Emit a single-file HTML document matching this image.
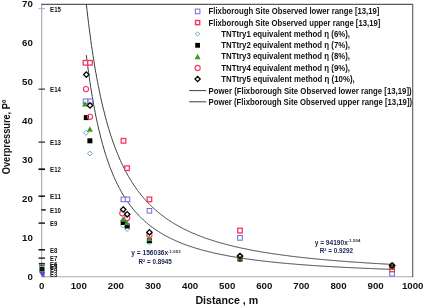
<!DOCTYPE html><html><head><meta charset="utf-8"><title>chart</title><style>html,body{margin:0;padding:0;background:#fff}svg{display:block;filter:blur(0.4px)}</style></head><body><svg width="425" height="307" viewBox="0 0 425 307" font-family='"Liberation Sans", sans-serif' font-weight="bold">
<rect width="425" height="307" fill="#fff"/>
<path d="M41.7,4.2 V276.8 H412.7" fill="none" stroke="#a2aeb6" stroke-width="1.1"/>
<path d="M41.2,4.4 H412.7 V277.3" fill="none" stroke="#5a5a5a" stroke-width="1.1"/>
<path d="M86.3,55.1 L87.0,61.0 L87.8,66.7 L88.5,72.2 L89.3,77.5 L90.0,82.5 L90.7,87.3 L91.5,92.0 L92.2,96.4 L93.0,100.7 L93.7,104.8 L94.5,108.8 L95.2,112.7 L95.9,116.3 L96.7,119.9 L97.4,123.3 L98.2,126.7 L98.9,129.9 L99.7,133.0 L100.4,136.0 L101.1,138.8 L101.9,141.6 L102.6,144.4 L103.4,147.0 L104.1,149.5 L104.8,152.0 L105.6,154.4 L106.3,156.7 L107.1,158.9 L107.8,161.1 L108.6,163.2 L109.3,165.3 L110.0,167.3 L110.8,169.2 L111.5,171.1 L112.3,172.9 L113.0,174.7 L113.7,176.4 L114.5,178.1 L115.2,179.7 L116.0,181.3 L116.7,182.9 L117.5,184.4 L118.2,185.9 L118.9,187.3 L119.7,188.7 L120.4,190.1 L121.2,191.4 L121.9,192.7 L122.7,194.0 L123.4,195.2 L124.1,196.4 L124.9,197.6 L125.6,198.8 L126.4,199.9 L127.1,201.0 L127.8,202.1 L128.6,203.1 L129.3,204.1 L130.1,205.1 L130.8,206.1 L131.6,207.1 L132.3,208.0 L133.0,208.9 L133.8,209.8 L134.5,210.7 L135.3,211.6 L136.0,212.4 L136.8,213.3 L137.5,214.1 L138.2,214.9 L139.0,215.6 L139.7,216.4 L140.5,217.2 L141.2,217.9 L141.9,218.6 L142.7,219.3 L143.4,220.0 L144.2,220.7 L144.9,221.3 L145.7,222.0 L146.4,222.6 L147.1,223.3 L147.9,223.9 L148.6,224.5 L149.4,225.1 L150.1,225.7 L150.8,226.2 L151.6,226.8 L152.3,227.3 L153.1,227.9 L153.8,228.4 L154.6,228.9 L155.3,229.5 L156.0,230.0 L156.8,230.5 L157.5,230.9 L158.3,231.4 L159.0,231.9 L159.8,232.4 L160.5,232.8 L161.2,233.3 L162.0,233.7 L162.7,234.1 L163.5,234.6 L164.2,235.0 L164.9,235.4 L165.7,235.8 L166.4,236.2 L167.2,236.6 L167.9,237.0 L168.7,237.4 L169.4,237.8 L170.1,238.1 L170.9,238.5 L171.6,238.9 L172.4,239.2 L173.1,239.6 L173.9,239.9 L174.6,240.2 L175.3,240.6 L176.1,240.9 L176.8,241.2 L177.6,241.6 L178.3,241.9 L179.0,242.2 L179.8,242.5 L180.5,242.8 L181.3,243.1 L182.0,243.4 L182.8,243.7 L183.5,244.0 L184.2,244.2 L185.0,244.5 L185.7,244.8 L186.5,245.1 L187.2,245.3 L187.9,245.6 L188.7,245.8 L189.4,246.1 L190.2,246.3 L190.9,246.6 L191.7,246.8 L192.4,247.1 L193.1,247.3 L193.9,247.6 L194.6,247.8 L195.4,248.0 L196.1,248.3 L196.9,248.5 L197.6,248.7 L198.3,248.9 L199.1,249.1 L199.8,249.3 L200.6,249.6 L201.3,249.8 L202.0,250.0 L202.8,250.2 L203.5,250.4 L204.3,250.6 L205.0,250.8 L205.8,251.0 L206.5,251.2 L207.2,251.3 L208.0,251.5 L208.7,251.7 L209.5,251.9 L210.2,252.1 L211.0,252.3 L211.7,252.4 L212.4,252.6 L213.2,252.8 L213.9,252.9 L214.7,253.1 L215.4,253.3 L216.1,253.4 L216.9,253.6 L217.6,253.8 L218.4,253.9 L219.1,254.1 L219.9,254.2 L220.6,254.4 L221.3,254.5 L222.1,254.7 L222.8,254.8 L223.6,255.0 L224.3,255.1 L225.0,255.3 L225.8,255.4 L226.5,255.6 L227.3,255.7 L228.0,255.8 L228.8,256.0 L229.5,256.1 L230.2,256.3 L231.0,256.4 L231.7,256.5 L232.5,256.6 L233.2,256.8 L234.0,256.9 L234.7,257.0 L235.4,257.1 L236.2,257.3 L236.9,257.4 L237.7,257.5 L238.4,257.6 L239.1,257.8 L239.9,257.9 L240.6,258.0 L241.4,258.1 L242.1,258.2 L242.9,258.3 L243.6,258.4 L244.3,258.5 L245.1,258.7 L245.8,258.8 L246.6,258.9 L247.3,259.0 L248.1,259.1 L248.8,259.2 L249.5,259.3 L250.3,259.4 L251.0,259.5 L251.8,259.6 L252.5,259.7 L253.2,259.8 L254.0,259.9 L254.7,260.0 L255.5,260.1 L256.2,260.2 L257.0,260.3 L257.7,260.4 L258.4,260.5 L259.2,260.6 L259.9,260.6 L260.7,260.7 L261.4,260.8 L262.1,260.9 L262.9,261.0 L263.6,261.1 L264.4,261.2 L265.1,261.3 L265.9,261.3 L266.6,261.4 L267.3,261.5 L268.1,261.6 L268.8,261.7 L269.6,261.7 L270.3,261.8 L271.1,261.9 L271.8,262.0 L272.5,262.1 L273.3,262.1 L274.0,262.2 L274.8,262.3 L275.5,262.4 L276.2,262.4 L277.0,262.5 L277.7,262.6 L278.5,262.7 L279.2,262.7 L280.0,262.8 L280.7,262.9 L281.4,263.0 L282.2,263.0 L282.9,263.1 L283.7,263.2 L284.4,263.2 L285.2,263.3 L285.9,263.4 L286.6,263.4 L287.4,263.5 L288.1,263.6 L288.9,263.6 L289.6,263.7 L290.3,263.8 L291.1,263.8 L291.8,263.9 L292.6,263.9 L293.3,264.0 L294.1,264.1 L294.8,264.1 L295.5,264.2 L296.3,264.3 L297.0,264.3 L297.8,264.4 L298.5,264.4 L299.2,264.5 L300.0,264.5 L300.7,264.6 L301.5,264.7 L302.2,264.7 L303.0,264.8 L303.7,264.8 L304.4,264.9 L305.2,264.9 L305.9,265.0 L306.7,265.0 L307.4,265.1 L308.2,265.2 L308.9,265.2 L309.6,265.3 L310.4,265.3 L311.1,265.4 L311.9,265.4 L312.6,265.5 L313.3,265.5 L314.1,265.6 L314.8,265.6 L315.6,265.7 L316.3,265.7 L317.1,265.8 L317.8,265.8 L318.5,265.9 L319.3,265.9 L320.0,266.0 L320.8,266.0 L321.5,266.1 L322.3,266.1 L323.0,266.1 L323.7,266.2 L324.5,266.2 L325.2,266.3 L326.0,266.3 L326.7,266.4 L327.4,266.4 L328.2,266.5 L328.9,266.5 L329.7,266.5 L330.4,266.6 L331.2,266.6 L331.9,266.7 L332.6,266.7 L333.4,266.8 L334.1,266.8 L334.9,266.8 L335.6,266.9 L336.3,266.9 L337.1,267.0 L337.8,267.0 L338.6,267.0 L339.3,267.1 L340.1,267.1 L340.8,267.2 L341.5,267.2 L342.3,267.2 L343.0,267.3 L343.8,267.3 L344.5,267.4 L345.3,267.4 L346.0,267.4 L346.7,267.5 L347.5,267.5 L348.2,267.5 L349.0,267.6 L349.7,267.6 L350.4,267.7 L351.2,267.7 L351.9,267.7 L352.7,267.8 L353.4,267.8 L354.2,267.8 L354.9,267.9 L355.6,267.9 L356.4,267.9 L357.1,268.0 L357.9,268.0 L358.6,268.0 L359.4,268.1 L360.1,268.1 L360.8,268.1 L361.6,268.2 L362.3,268.2 L363.1,268.2 L363.8,268.3 L364.5,268.3 L365.3,268.3 L366.0,268.4 L366.8,268.4 L367.5,268.4 L368.3,268.5 L369.0,268.5 L369.7,268.5 L370.5,268.5 L371.2,268.6 L372.0,268.6 L372.7,268.6 L373.4,268.7 L374.2,268.7 L374.9,268.7 L375.7,268.8 L376.4,268.8 L377.2,268.8 L377.9,268.8 L378.6,268.9 L379.4,268.9 L380.1,268.9 L380.9,269.0 L381.6,269.0 L382.4,269.0 L383.1,269.0 L383.8,269.1 L384.6,269.1 L385.3,269.1 L386.1,269.1 L386.8,269.2 L387.5,269.2 L388.3,269.2 L389.0,269.3 L389.8,269.3 L390.5,269.3 L391.3,269.3 L392.0,269.4 L392.3,269.4" fill="none" stroke="#354242" stroke-width="1"/>
<path d="M86.3,4.0 L87.1,10.7 L87.8,17.1 L88.6,23.3 L89.3,29.2 L90.1,34.9 L90.8,40.4 L91.5,45.6 L92.3,50.7 L93.0,55.6 L93.8,60.3 L94.5,64.9 L95.2,69.3 L96.0,73.5 L96.7,77.6 L97.5,81.6 L98.2,85.5 L99.0,89.2 L99.7,92.8 L100.4,96.3 L101.2,99.6 L101.9,102.9 L102.7,106.1 L103.4,109.1 L104.2,112.1 L104.9,115.0 L105.6,117.8 L106.4,120.6 L107.1,123.2 L107.9,125.8 L108.6,128.3 L109.3,130.8 L110.1,133.1 L110.8,135.4 L111.6,137.7 L112.3,139.9 L113.1,142.0 L113.8,144.1 L114.5,146.1 L115.3,148.1 L116.0,150.0 L116.8,151.9 L117.5,153.7 L118.3,155.5 L119.0,157.3 L119.7,159.0 L120.5,160.6 L121.2,162.3 L122.0,163.9 L122.7,165.4 L123.4,166.9 L124.2,168.4 L124.9,169.9 L125.7,171.3 L126.4,172.7 L127.2,174.0 L127.9,175.3 L128.6,176.6 L129.4,177.9 L130.1,179.2 L130.9,180.4 L131.6,181.6 L132.3,182.7 L133.1,183.9 L133.8,185.0 L134.6,186.1 L135.3,187.2 L136.1,188.2 L136.8,189.3 L137.5,190.3 L138.3,191.3 L139.0,192.3 L139.8,193.2 L140.5,194.2 L141.3,195.1 L142.0,196.0 L142.7,196.9 L143.5,197.8 L144.2,198.6 L145.0,199.5 L145.7,200.3 L146.4,201.1 L147.2,201.9 L147.9,202.7 L148.7,203.4 L149.4,204.2 L150.2,204.9 L150.9,205.7 L151.6,206.4 L152.4,207.1 L153.1,207.8 L153.9,208.5 L154.6,209.2 L155.4,209.8 L156.1,210.5 L156.8,211.1 L157.6,211.7 L158.3,212.4 L159.1,213.0 L159.8,213.6 L160.5,214.2 L161.3,214.8 L162.0,215.3 L162.8,215.9 L163.5,216.4 L164.3,217.0 L165.0,217.5 L165.7,218.1 L166.5,218.6 L167.2,219.1 L168.0,219.6 L168.7,220.1 L169.4,220.6 L170.2,221.1 L170.9,221.6 L171.7,222.0 L172.4,222.5 L173.2,223.0 L173.9,223.4 L174.6,223.9 L175.4,224.3 L176.1,224.7 L176.9,225.2 L177.6,225.6 L178.4,226.0 L179.1,226.4 L179.8,226.8 L180.6,227.2 L181.3,227.6 L182.1,228.0 L182.8,228.4 L183.5,228.8 L184.3,229.2 L185.0,229.5 L185.8,229.9 L186.5,230.2 L187.3,230.6 L188.0,231.0 L188.7,231.3 L189.5,231.6 L190.2,232.0 L191.0,232.3 L191.7,232.6 L192.5,233.0 L193.2,233.3 L193.9,233.6 L194.7,233.9 L195.4,234.2 L196.2,234.5 L196.9,234.8 L197.6,235.1 L198.4,235.4 L199.1,235.7 L199.9,236.0 L200.6,236.3 L201.4,236.6 L202.1,236.9 L202.8,237.1 L203.6,237.4 L204.3,237.7 L205.1,238.0 L205.8,238.2 L206.5,238.5 L207.3,238.7 L208.0,239.0 L208.8,239.2 L209.5,239.5 L210.3,239.7 L211.0,240.0 L211.7,240.2 L212.5,240.5 L213.2,240.7 L214.0,240.9 L214.7,241.2 L215.5,241.4 L216.2,241.6 L216.9,241.8 L217.7,242.1 L218.4,242.3 L219.2,242.5 L219.9,242.7 L220.6,242.9 L221.4,243.1 L222.1,243.3 L222.9,243.5 L223.6,243.7 L224.4,243.9 L225.1,244.1 L225.8,244.3 L226.6,244.5 L227.3,244.7 L228.1,244.9 L228.8,245.1 L229.6,245.3 L230.3,245.5 L231.0,245.7 L231.8,245.8 L232.5,246.0 L233.3,246.2 L234.0,246.4 L234.7,246.6 L235.5,246.7 L236.2,246.9 L237.0,247.1 L237.7,247.2 L238.5,247.4 L239.2,247.6 L239.9,247.7 L240.7,247.9 L241.4,248.1 L242.2,248.2 L242.9,248.4 L243.6,248.5 L244.4,248.7 L245.1,248.8 L245.9,249.0 L246.6,249.1 L247.4,249.3 L248.1,249.4 L248.8,249.6 L249.6,249.7 L250.3,249.9 L251.1,250.0 L251.8,250.2 L252.6,250.3 L253.3,250.4 L254.0,250.6 L254.8,250.7 L255.5,250.9 L256.3,251.0 L257.0,251.1 L257.7,251.2 L258.5,251.4 L259.2,251.5 L260.0,251.6 L260.7,251.8 L261.5,251.9 L262.2,252.0 L262.9,252.1 L263.7,252.3 L264.4,252.4 L265.2,252.5 L265.9,252.6 L266.7,252.7 L267.4,252.9 L268.1,253.0 L268.9,253.1 L269.6,253.2 L270.4,253.3 L271.1,253.4 L271.8,253.6 L272.6,253.7 L273.3,253.8 L274.1,253.9 L274.8,254.0 L275.6,254.1 L276.3,254.2 L277.0,254.3 L277.8,254.4 L278.5,254.5 L279.3,254.6 L280.0,254.7 L280.7,254.8 L281.5,254.9 L282.2,255.0 L283.0,255.1 L283.7,255.2 L284.5,255.3 L285.2,255.4 L285.9,255.5 L286.7,255.6 L287.4,255.7 L288.2,255.8 L288.9,255.9 L289.7,256.0 L290.4,256.1 L291.1,256.2 L291.9,256.3 L292.6,256.4 L293.4,256.5 L294.1,256.6 L294.8,256.6 L295.6,256.7 L296.3,256.8 L297.1,256.9 L297.8,257.0 L298.6,257.1 L299.3,257.2 L300.0,257.3 L300.8,257.3 L301.5,257.4 L302.3,257.5 L303.0,257.6 L303.8,257.7 L304.5,257.7 L305.2,257.8 L306.0,257.9 L306.7,258.0 L307.5,258.1 L308.2,258.1 L308.9,258.2 L309.7,258.3 L310.4,258.4 L311.2,258.4 L311.9,258.5 L312.7,258.6 L313.4,258.7 L314.1,258.7 L314.9,258.8 L315.6,258.9 L316.4,259.0 L317.1,259.0 L317.8,259.1 L318.6,259.2 L319.3,259.2 L320.1,259.3 L320.8,259.4 L321.6,259.5 L322.3,259.5 L323.0,259.6 L323.8,259.7 L324.5,259.7 L325.3,259.8 L326.0,259.9 L326.8,259.9 L327.5,260.0 L328.2,260.1 L329.0,260.1 L329.7,260.2 L330.5,260.2 L331.2,260.3 L331.9,260.4 L332.7,260.4 L333.4,260.5 L334.2,260.6 L334.9,260.6 L335.7,260.7 L336.4,260.7 L337.1,260.8 L337.9,260.9 L338.6,260.9 L339.4,261.0 L340.1,261.0 L340.9,261.1 L341.6,261.2 L342.3,261.2 L343.1,261.3 L343.8,261.3 L344.6,261.4 L345.3,261.4 L346.0,261.5 L346.8,261.6 L347.5,261.6 L348.3,261.7 L349.0,261.7 L349.8,261.8 L350.5,261.8 L351.2,261.9 L352.0,261.9 L352.7,262.0 L353.5,262.0 L354.2,262.1 L354.9,262.1 L355.7,262.2 L356.4,262.2 L357.2,262.3 L357.9,262.3 L358.7,262.4 L359.4,262.4 L360.1,262.5 L360.9,262.5 L361.6,262.6 L362.4,262.6 L363.1,262.7 L363.9,262.7 L364.6,262.8 L365.3,262.8 L366.1,262.9 L366.8,262.9 L367.6,263.0 L368.3,263.0 L369.0,263.1 L369.8,263.1 L370.5,263.2 L371.3,263.2 L372.0,263.3 L372.8,263.3 L373.5,263.4 L374.2,263.4 L375.0,263.4 L375.7,263.5 L376.5,263.5 L377.2,263.6 L378.0,263.6 L378.7,263.7 L379.4,263.7 L380.2,263.7 L380.9,263.8 L381.7,263.8 L382.4,263.9 L383.1,263.9 L383.9,264.0 L384.6,264.0 L385.4,264.0 L386.1,264.1 L386.9,264.1 L387.6,264.2 L388.3,264.2 L389.1,264.2 L389.8,264.3 L390.6,264.3 L391.3,264.4 L392.0,264.4 L392.3,264.4" fill="none" stroke="#354242" stroke-width="1"/>
<rect x="38.5" y="8.05" width="6.5" height="1.1" fill="#b3aae3"/>
<rect x="38.5" y="88.60" width="6.5" height="1.0" fill="#111"/>
<rect x="38.5" y="141.55" width="6.5" height="1.1" fill="#111"/>
<rect x="38.5" y="168.35" width="6.5" height="1.7" fill="#111"/>
<rect x="38.5" y="195.45" width="6.5" height="1.5" fill="#111"/>
<rect x="41.3" y="209.20" width="4.5" height="1.4" fill="#111"/>
<rect x="38.5" y="222.40" width="6.5" height="1.4" fill="#111"/>
<rect x="38.5" y="249.05" width="6.5" height="1.5" fill="#111"/>
<rect x="38.5" y="257.45" width="6.5" height="1.3" fill="#111"/>
<rect x="38.9" y="262.9" width="6" height="1.2" fill="#222"/><rect x="38.9" y="264.5" width="6" height="1.2" fill="#222"/>
<rect x="39.7" y="266.9" width="4.6" height="4.3" fill="#0a1a0a" stroke="#1f5c1f" stroke-width="0.5"/>
<path d="M38.9,271.6 H45 L44.3,276.4 H42 Z" fill="#5b48c8"/>
<rect x="42.6" y="276" width="2" height="1.3" fill="#f3375f"/>
<text x="50.1" y="11.5" font-size="7.3" fill="#111" textLength="10.8" lengthAdjust="spacingAndGlyphs">E15</text>
<text x="50.1" y="92.0" font-size="7.3" fill="#111" textLength="10.8" lengthAdjust="spacingAndGlyphs">E14</text>
<text x="50.1" y="145.0" font-size="7.3" fill="#111" textLength="10.8" lengthAdjust="spacingAndGlyphs">E13</text>
<text x="50.1" y="172.1" font-size="7.3" fill="#111" textLength="10.8" lengthAdjust="spacingAndGlyphs">E12</text>
<text x="50.1" y="199.1" font-size="7.3" fill="#111" textLength="10.8" lengthAdjust="spacingAndGlyphs">E11</text>
<text x="50.1" y="212.8" font-size="7.3" fill="#111" textLength="10.8" lengthAdjust="spacingAndGlyphs">E10</text>
<text x="50.1" y="226.0" font-size="7.3" fill="#111" textLength="7.3" lengthAdjust="spacingAndGlyphs">E9</text>
<text x="50.1" y="252.7" font-size="7.3" fill="#111" textLength="7.3" lengthAdjust="spacingAndGlyphs">E8</text>
<text x="50.1" y="261.0" font-size="7.3" fill="#111" textLength="7.3" lengthAdjust="spacingAndGlyphs">E7</text>
<text x="50.1" y="266.5" font-size="7.3" fill="#111" textLength="7.3" lengthAdjust="spacingAndGlyphs">E6</text>
<text x="50.1" y="269.2" font-size="7.3" fill="#111" textLength="7.3" lengthAdjust="spacingAndGlyphs">E5</text>
<text x="50.1" y="272.2" font-size="7.3" fill="#111" textLength="7.3" lengthAdjust="spacingAndGlyphs">E4</text>
<text x="50.1" y="277.1" font-size="7.3" fill="#111" textLength="7.3" lengthAdjust="spacingAndGlyphs">E3</text>
<rect x="83.2" y="99.0" width="4.6" height="4.6" fill="#fff" stroke="#7766d6" stroke-width="1.0"/>
<rect x="88.1" y="99.0" width="4.6" height="4.6" fill="#fff" stroke="#7766d6" stroke-width="1.0"/>
<rect x="121.1" y="197.1" width="4.6" height="4.6" fill="#fff" stroke="#7766d6" stroke-width="1.0"/>
<rect x="125.2" y="197.1" width="4.6" height="4.6" fill="#fff" stroke="#7766d6" stroke-width="1.0"/>
<rect x="147.1" y="208.5" width="4.6" height="4.6" fill="#fff" stroke="#7766d6" stroke-width="1.0"/>
<rect x="237.7" y="235.6" width="4.6" height="4.6" fill="#fff" stroke="#7766d6" stroke-width="1.0"/>
<rect x="389.8" y="271.4" width="4.6" height="4.6" fill="#fff" stroke="#7766d6" stroke-width="1.0"/>
<rect x="83.2" y="60.5" width="4.6" height="4.6" fill="#fff" stroke="#f3375f" stroke-width="1.3"/>
<rect x="87.7" y="60.5" width="4.6" height="4.6" fill="#fff" stroke="#f3375f" stroke-width="1.3"/>
<rect x="121.2" y="138.5" width="4.6" height="4.6" fill="#fff" stroke="#f3375f" stroke-width="1.3"/>
<rect x="124.8" y="165.9" width="4.6" height="4.6" fill="#fff" stroke="#f3375f" stroke-width="1.3"/>
<rect x="147.1" y="197.1" width="4.6" height="4.6" fill="#fff" stroke="#f3375f" stroke-width="1.3"/>
<rect x="237.7" y="228.3" width="4.6" height="4.6" fill="#fff" stroke="#f3375f" stroke-width="1.3"/>
<rect x="389.8" y="267.1" width="4.6" height="4.6" fill="#fff" stroke="#f3375f" stroke-width="1.3"/>
<path d="M86.0,130.3 L88.5,132.8 L86.0,135.3 L83.5,132.8Z" fill="#fff" stroke="#4f8fb8" stroke-width="0.8"/>
<path d="M89.9,151.0 L92.4,153.5 L89.9,156.0 L87.4,153.5Z" fill="#fff" stroke="#4f8fb8" stroke-width="0.8"/>
<path d="M123.2,223.0 L125.7,225.5 L123.2,228.0 L120.7,225.5Z" fill="#fff" stroke="#4f8fb8" stroke-width="0.8"/>
<path d="M127.2,226.5 L129.7,229.0 L127.2,231.5 L124.7,229.0Z" fill="#fff" stroke="#4f8fb8" stroke-width="0.8"/>
<path d="M149.4,239.9 L151.9,242.4 L149.4,244.9 L146.9,242.4Z" fill="#fff" stroke="#4f8fb8" stroke-width="0.8"/>
<path d="M240.0,257.0 L242.5,259.5 L240.0,262.0 L237.5,259.5Z" fill="#fff" stroke="#4f8fb8" stroke-width="0.8"/>
<path d="M392.1,264.8 L394.6,267.3 L392.1,269.8 L389.6,267.3Z" fill="#fff" stroke="#4f8fb8" stroke-width="0.8"/>
<rect x="83.8" y="115.1" width="5" height="5" fill="#000"/>
<rect x="87.4" y="138.3" width="5" height="5" fill="#000"/>
<rect x="120.7" y="220.0" width="5" height="5" fill="#000"/>
<rect x="124.7" y="223.5" width="5" height="5" fill="#000"/>
<rect x="146.9" y="238.2" width="5" height="5" fill="#000"/>
<rect x="237.5" y="256.5" width="5" height="5" fill="#000"/>
<rect x="389.6" y="264.5" width="5" height="5" fill="#000"/>
<path d="M85.0,101.0 L88.0,106.6 L82.0,106.6Z" fill="#3a9d23"/>
<path d="M89.9,126.2 L92.9,131.8 L86.9,131.8Z" fill="#3a9d23"/>
<path d="M123.0,216.2 L126.0,221.8 L120.0,221.8Z" fill="#3a9d23"/>
<path d="M127.0,219.7 L130.0,225.3 L124.0,225.3Z" fill="#3a9d23"/>
<path d="M149.4,235.6 L152.4,241.2 L146.4,241.2Z" fill="#3a9d23"/>
<path d="M240.0,255.0 L243.0,260.6 L237.0,260.6Z" fill="#3a9d23"/>
<path d="M392.1,264.4 L395.1,270.0 L389.1,270.0Z" fill="#3a9d23"/>
<circle cx="86.0" cy="89.1" r="2.6" fill="none" stroke="#f3375f" stroke-width="1.1"/>
<circle cx="90.0" cy="116.8" r="2.6" fill="none" stroke="#f3375f" stroke-width="1.1"/>
<circle cx="122.3" cy="213.3" r="2.6" fill="none" stroke="#f3375f" stroke-width="1.1"/>
<circle cx="127.2" cy="218.0" r="2.6" fill="none" stroke="#f3375f" stroke-width="1.1"/>
<circle cx="149.4" cy="235.0" r="2.6" fill="none" stroke="#f3375f" stroke-width="1.1"/>
<circle cx="240.0" cy="256.6" r="2.6" fill="none" stroke="#f3375f" stroke-width="1.1"/>
<circle cx="392.1" cy="266.2" r="2.6" fill="none" stroke="#f3375f" stroke-width="1.1"/>
<path d="M86.3,71.9 L89.0,74.6 L86.3,77.3 L83.6,74.6Z" fill="#fff" stroke="#000" stroke-width="1.3"/>
<path d="M90.0,102.7 L92.7,105.4 L90.0,108.1 L87.3,105.4Z" fill="#fff" stroke="#000" stroke-width="1.3"/>
<path d="M123.2,206.8 L125.9,209.5 L123.2,212.2 L120.5,209.5Z" fill="#fff" stroke="#000" stroke-width="1.3"/>
<path d="M127.2,211.6 L129.9,214.3 L127.2,217.0 L124.5,214.3Z" fill="#fff" stroke="#000" stroke-width="1.3"/>
<path d="M149.4,229.6 L152.1,232.3 L149.4,235.0 L146.7,232.3Z" fill="#fff" stroke="#000" stroke-width="1.3"/>
<path d="M240.0,253.4 L242.7,256.1 L240.0,258.8 L237.3,256.1Z" fill="none" stroke="#000" stroke-width="1.3"/>
<path d="M392.1,262.7 L394.8,265.4 L392.1,268.1 L389.4,265.4Z" fill="none" stroke="#000" stroke-width="1.3"/>
<text x="32.8" y="280.2" font-size="9.7" text-anchor="end" fill="#111">0</text>
<text x="32.8" y="241.2" font-size="9.7" text-anchor="end" fill="#111">10</text>
<text x="32.8" y="202.2" font-size="9.7" text-anchor="end" fill="#111">20</text>
<text x="32.8" y="163.2" font-size="9.7" text-anchor="end" fill="#111">30</text>
<text x="32.8" y="124.2" font-size="9.7" text-anchor="end" fill="#111">40</text>
<text x="32.8" y="85.2" font-size="9.7" text-anchor="end" fill="#111">50</text>
<text x="32.8" y="46.3" font-size="9.7" text-anchor="end" fill="#111">60</text>
<text x="32.8" y="7.3" font-size="9.7" text-anchor="end" fill="#111">70</text>
<text x="41.7" y="288.6" font-size="9.7" text-anchor="middle" fill="#111">0</text>
<text x="78.8" y="288.6" font-size="9.7" text-anchor="middle" fill="#111">100</text>
<text x="115.9" y="288.6" font-size="9.7" text-anchor="middle" fill="#111">200</text>
<text x="153.0" y="288.6" font-size="9.7" text-anchor="middle" fill="#111">300</text>
<text x="190.1" y="288.6" font-size="9.7" text-anchor="middle" fill="#111">400</text>
<text x="227.2" y="288.6" font-size="9.7" text-anchor="middle" fill="#111">500</text>
<text x="264.3" y="288.6" font-size="9.7" text-anchor="middle" fill="#111">600</text>
<text x="301.4" y="288.6" font-size="9.7" text-anchor="middle" fill="#111">700</text>
<text x="338.5" y="288.6" font-size="9.7" text-anchor="middle" fill="#111">800</text>
<text x="375.6" y="288.6" font-size="9.7" text-anchor="middle" fill="#111">900</text>
<text x="412.7" y="288.6" font-size="9.7" text-anchor="middle" fill="#111">1000</text>
<text x="226.8" y="304.2" font-size="10.8" text-anchor="middle" fill="#111" textLength="62.7" lengthAdjust="spacingAndGlyphs">Distance , m</text>
<text transform="translate(9.8,137) rotate(-90)" font-size="10.8" text-anchor="middle" fill="#111" textLength="74.5" lengthAdjust="spacingAndGlyphs">Overpressure, Pº</text>
<rect x="195.3" y="9.1" width="4.6" height="4.6" fill="#fff" stroke="#7766d6" stroke-width="1.0"/>
<rect x="195.5" y="20.5" width="4.2" height="4.2" fill="#fff" stroke="#f3375f" stroke-width="1.4"/>
<path d="M197.6,31.8 L199.8,34.0 L197.6,36.2 L195.4,34.0Z" fill="#fff" stroke="#4f8fb8" stroke-width="0.8"/>
<rect x="195.2" y="42.9" width="4.8" height="4.8" fill="#000"/>
<path d="M197.6,53.7 L200.6,59.3 L194.6,59.3Z" fill="#3a9d23"/>
<circle cx="197.6" cy="68.0" r="2.6" fill="none" stroke="#f3375f" stroke-width="1.1"/>
<path d="M197.6,76.4 L200.2,79.0 L197.6,81.6 L195.0,79.0Z" fill="#fff" stroke="#000" stroke-width="1.3"/>
<path d="M189.2,90.6 H206.2" stroke="#354242" stroke-width="1"/>
<path d="M189.2,101.8 H206.2" stroke="#354242" stroke-width="1"/>
<text x="208.6" y="14.3" font-size="8.2" fill="#111" textLength="170.8" lengthAdjust="spacingAndGlyphs">Flixborough Site Observed lower range [13,19]</text>
<text x="208.6" y="25.5" font-size="8.2" fill="#111" textLength="171.7" lengthAdjust="spacingAndGlyphs">Flixborough Site Observed upper range [13,19]</text>
<text x="221.2" y="36.9" font-size="8.2" fill="#111" textLength="128.8" lengthAdjust="spacingAndGlyphs">TNTtry1 equivalent method η (6%),</text>
<text x="221.2" y="48.2" font-size="8.2" fill="#111" textLength="128.8" lengthAdjust="spacingAndGlyphs">TNTtry2 equivalent method η (7%),</text>
<text x="221.2" y="59.4" font-size="8.2" fill="#111" textLength="128.8" lengthAdjust="spacingAndGlyphs">TNTtry3 equivalent method η (8%),</text>
<text x="221.2" y="70.9" font-size="8.2" fill="#111" textLength="128.8" lengthAdjust="spacingAndGlyphs">TNTtry4 equivalent method η (9%),</text>
<text x="221.2" y="81.9" font-size="8.2" fill="#111" textLength="133.5" lengthAdjust="spacingAndGlyphs">TNTtry5 equivalent method η (10%),</text>
<text x="208.6" y="93.5" font-size="8.2" fill="#111" textLength="203" lengthAdjust="spacingAndGlyphs">Power (Flixborough Site Observed lower range [13,19])</text>
<text x="208.6" y="104.7" font-size="8.2" fill="#111" textLength="203.5" lengthAdjust="spacingAndGlyphs">Power (Flixborough Site Observed upper range [13,19])</text>
<text x="131.3" y="255" font-size="6.6" fill="#1c2550">y = 156036x<tspan font-size="4.4" dy="-2.5">-1.653</tspan></text>
<text x="138.5" y="263.6" font-size="6.6" fill="#1c2550" textLength="33.3" lengthAdjust="spacingAndGlyphs">R² = 0.8945</text>
<text x="314.7" y="244.8" font-size="6.6" fill="#1c2550">y = 94190x<tspan font-size="4.4" dy="-2.5">-1.504</tspan></text>
<text x="319.8" y="253" font-size="6.6" fill="#1c2550" textLength="33.3" lengthAdjust="spacingAndGlyphs">R² = 0.9292</text>
</svg></body></html>
